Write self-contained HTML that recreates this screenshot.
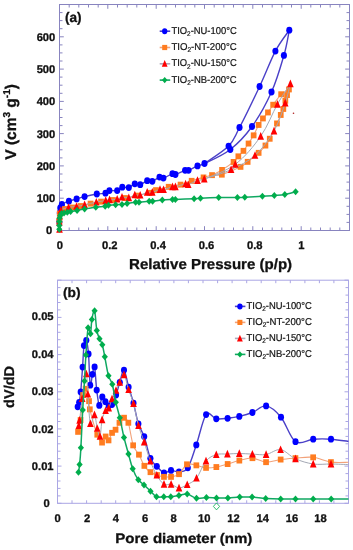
<!DOCTYPE html>
<html><head><meta charset="utf-8"><style>
html,body{margin:0;padding:0;background:#fff;}
svg{display:block;}
text{font-family:"Liberation Sans",Arial,sans-serif;fill:#111;text-rendering:geometricPrecision;}
text[font-weight="bold"]{stroke:#111;stroke-width:0.3px;}
</style></head><body>
<svg width="353" height="550" viewBox="0 0 353 550">
<rect width="353" height="550" fill="#fff"/>
<rect x="59.5" y="4.5" width="290.0" height="226.0" fill="none" stroke="#8884bf" stroke-width="1"/>
<path d="M59.5,230.5v-4.3M59.5,4.5v4.3M69.2,230.5v-3M69.2,4.5v3M78.8,230.5v-3M78.8,4.5v3M88.5,230.5v-3M88.5,4.5v3M98.2,230.5v-3M98.2,4.5v3M107.8,230.5v-4.3M107.8,4.5v4.3M117.5,230.5v-3M117.5,4.5v3M127.2,230.5v-3M127.2,4.5v3M136.8,230.5v-3M136.8,4.5v3M146.5,230.5v-3M146.5,4.5v3M156.2,230.5v-4.3M156.2,4.5v4.3M165.8,230.5v-3M165.8,4.5v3M175.5,230.5v-3M175.5,4.5v3M185.2,230.5v-3M185.2,4.5v3M194.8,230.5v-3M194.8,4.5v3M204.5,230.5v-4.3M204.5,4.5v4.3M214.2,230.5v-3M214.2,4.5v3M223.8,230.5v-3M223.8,4.5v3M233.5,230.5v-3M233.5,4.5v3M243.2,230.5v-3M243.2,4.5v3M252.8,230.5v-4.3M252.8,4.5v4.3M262.5,230.5v-3M262.5,4.5v3M272.2,230.5v-3M272.2,4.5v3M281.8,230.5v-3M281.8,4.5v3M291.5,230.5v-3M291.5,4.5v3M301.2,230.5v-4.3M301.2,4.5v4.3M310.8,230.5v-3M310.8,4.5v3M320.5,230.5v-3M320.5,4.5v3M330.2,230.5v-3M330.2,4.5v3M339.8,230.5v-3M339.8,4.5v3M349.5,230.5v-4.3M349.5,4.5v4.3M59.5,230.5h4.3M349.5,230.5h-4.3M59.5,222.4h3M349.5,222.4h-3M59.5,214.4h3M349.5,214.4h-3M59.5,206.3h3M349.5,206.3h-3M59.5,198.2h4.3M349.5,198.2h-4.3M59.5,190.1h3M349.5,190.1h-3M59.5,182.1h3M349.5,182.1h-3M59.5,174.0h3M349.5,174.0h-3M59.5,165.9h4.3M349.5,165.9h-4.3M59.5,157.9h3M349.5,157.9h-3M59.5,149.8h3M349.5,149.8h-3M59.5,141.7h3M349.5,141.7h-3M59.5,133.6h4.3M349.5,133.6h-4.3M59.5,125.6h3M349.5,125.6h-3M59.5,117.5h3M349.5,117.5h-3M59.5,109.4h3M349.5,109.4h-3M59.5,101.4h4.3M349.5,101.4h-4.3M59.5,93.3h3M349.5,93.3h-3M59.5,85.2h3M349.5,85.2h-3M59.5,77.1h3M349.5,77.1h-3M59.5,69.1h4.3M349.5,69.1h-4.3M59.5,61.0h3M349.5,61.0h-3M59.5,52.9h3M349.5,52.9h-3M59.5,44.9h3M349.5,44.9h-3M59.5,36.8h4.3M349.5,36.8h-4.3M59.5,28.7h3M349.5,28.7h-3M59.5,20.6h3M349.5,20.6h-3M59.5,12.6h3M349.5,12.6h-3M59.5,4.5h4.3M349.5,4.5h-4.3" stroke="#8884bf" stroke-width="1" fill="none"/>
<rect x="57.5" y="280.2" width="291.0" height="223.10000000000002" fill="none" stroke="#aaa6e4" stroke-width="1"/>
<path d="M57.5,503.3v-3M57.5,280.2v3M72.0,503.3v-3M72.0,280.2v3M86.6,503.3v-3M86.6,280.2v3M101.2,503.3v-3M101.2,280.2v3M115.7,503.3v-3M115.7,280.2v3M130.2,503.3v-3M130.2,280.2v3M144.8,503.3v-3M144.8,280.2v3M159.3,503.3v-3M159.3,280.2v3M173.9,503.3v-3M173.9,280.2v3M188.4,503.3v-3M188.4,280.2v3M203.0,503.3v-3M203.0,280.2v3M217.6,503.3v-3M217.6,280.2v3M232.1,503.3v-3M232.1,280.2v3M246.7,503.3v-3M246.7,280.2v3M261.2,503.3v-3M261.2,280.2v3M275.8,503.3v-3M275.8,280.2v3M290.3,503.3v-3M290.3,280.2v3M304.9,503.3v-3M304.9,280.2v3M319.4,503.3v-3M319.4,280.2v3M333.9,503.3v-3M333.9,280.2v3M348.5,503.3v-3M348.5,280.2v3M57.5,503.3h4M348.5,503.3h-4M57.5,495.9h3M348.5,495.9h-3M57.5,488.4h3M348.5,488.4h-3M57.5,481.0h3M348.5,481.0h-3M57.5,473.6h3M348.5,473.6h-3M57.5,466.1h4M348.5,466.1h-4M57.5,458.7h3M348.5,458.7h-3M57.5,451.2h3M348.5,451.2h-3M57.5,443.8h3M348.5,443.8h-3M57.5,436.4h3M348.5,436.4h-3M57.5,428.9h4M348.5,428.9h-4M57.5,421.5h3M348.5,421.5h-3M57.5,414.1h3M348.5,414.1h-3M57.5,406.6h3M348.5,406.6h-3M57.5,399.2h3M348.5,399.2h-3M57.5,391.8h4M348.5,391.8h-4M57.5,384.3h3M348.5,384.3h-3M57.5,376.9h3M348.5,376.9h-3M57.5,369.4h3M348.5,369.4h-3M57.5,362.0h3M348.5,362.0h-3M57.5,354.6h4M348.5,354.6h-4M57.5,347.1h3M348.5,347.1h-3M57.5,339.7h3M348.5,339.7h-3M57.5,332.3h3M348.5,332.3h-3M57.5,324.8h3M348.5,324.8h-3M57.5,317.4h4M348.5,317.4h-4M57.5,309.9h3M348.5,309.9h-3M57.5,302.5h3M348.5,302.5h-3M57.5,295.1h3M348.5,295.1h-3M57.5,287.6h3M348.5,287.6h-3M57.5,280.2h4M348.5,280.2h-4" stroke="#aaa6e4" stroke-width="1" fill="none"/>
<g>
<path d="M59.4,229.5 C59.4,228.2 59.2,224.8 59.3,222.0 C59.4,219.2 59.6,215.3 59.8,213.0 C60.0,210.7 59.9,209.4 60.3,208.0 C60.6,206.6 60.5,205.5 61.9,204.4 C63.3,203.3 66.5,202.1 68.9,201.2 C71.4,200.3 74.0,199.7 76.6,198.9 C79.2,198.1 81.2,197.4 84.6,196.6 C88.0,195.8 93.3,194.6 96.8,194.0 C100.3,193.4 103.4,193.8 105.5,193.2 C107.6,192.6 107.5,191.0 109.4,190.6 C111.4,190.2 115.1,191.2 117.2,190.6 C119.3,190.0 120.4,187.7 122.3,187.2 C124.2,186.7 126.7,188.2 128.8,187.6 C130.9,187.0 132.9,184.3 134.8,183.8 C136.7,183.3 138.1,185.2 140.2,184.7 C142.3,184.2 145.2,181.3 147.2,180.7 C149.2,180.1 150.2,181.9 152.3,181.3 C154.4,180.7 157.7,177.6 159.5,177.1 C161.3,176.6 161.2,178.7 163.4,178.1 C165.6,177.5 170.5,174.3 172.5,173.7 C174.5,173.1 173.3,175.1 175.4,174.5 C177.5,173.9 182.9,171.0 185.1,170.3 C187.3,169.6 186.4,171.0 188.5,170.3 C190.6,169.6 194.8,167.0 197.5,165.9 C200.2,164.8 199.0,166.2 204.5,163.5 C210.0,160.8 222.4,155.7 230.3,149.5 C238.2,143.3 245.1,136.1 252.0,126.5 C258.9,116.9 266.2,103.8 271.5,92.0 C276.8,80.2 280.9,65.7 283.9,55.4 C286.9,45.1 288.4,34.4 289.3,30.2" fill="none" stroke="#4a40c8" stroke-width="1.4" stroke-linejoin="round"/>
<path d="M289.3,30.2 C287.0,33.7 280.3,41.7 275.4,51.1 C270.4,60.5 265.6,73.8 259.6,86.5 C253.6,99.2 244.7,117.6 239.5,127.5 C234.3,137.4 234.4,140.1 228.6,146.1 C222.8,152.1 208.5,160.6 204.5,163.5" fill="none" stroke="#4a40c8" stroke-width="1.4" stroke-linejoin="round"/>
<ellipse cx="59.3" cy="222.0" rx="3.05" ry="3.40" fill="#0000ff"/><ellipse cx="59.8" cy="213.0" rx="3.05" ry="3.40" fill="#0000ff"/><ellipse cx="60.3" cy="208.0" rx="3.05" ry="3.40" fill="#0000ff"/><ellipse cx="61.9" cy="204.4" rx="3.05" ry="3.40" fill="#0000ff"/><ellipse cx="68.9" cy="201.2" rx="3.05" ry="3.40" fill="#0000ff"/><ellipse cx="76.6" cy="198.9" rx="3.05" ry="3.40" fill="#0000ff"/><ellipse cx="84.6" cy="196.6" rx="3.05" ry="3.40" fill="#0000ff"/><ellipse cx="96.8" cy="194.0" rx="3.05" ry="3.40" fill="#0000ff"/><ellipse cx="105.5" cy="193.2" rx="3.05" ry="3.40" fill="#0000ff"/><ellipse cx="109.4" cy="190.6" rx="3.05" ry="3.40" fill="#0000ff"/><ellipse cx="117.2" cy="190.6" rx="3.05" ry="3.40" fill="#0000ff"/><ellipse cx="122.3" cy="187.2" rx="3.05" ry="3.40" fill="#0000ff"/><ellipse cx="128.8" cy="187.6" rx="3.05" ry="3.40" fill="#0000ff"/><ellipse cx="134.8" cy="183.8" rx="3.05" ry="3.40" fill="#0000ff"/><ellipse cx="140.2" cy="184.7" rx="3.05" ry="3.40" fill="#0000ff"/><ellipse cx="147.2" cy="180.7" rx="3.05" ry="3.40" fill="#0000ff"/><ellipse cx="152.3" cy="181.3" rx="3.05" ry="3.40" fill="#0000ff"/><ellipse cx="159.5" cy="177.1" rx="3.05" ry="3.40" fill="#0000ff"/><ellipse cx="163.4" cy="178.1" rx="3.05" ry="3.40" fill="#0000ff"/><ellipse cx="172.5" cy="173.7" rx="3.05" ry="3.40" fill="#0000ff"/><ellipse cx="175.4" cy="174.5" rx="3.05" ry="3.40" fill="#0000ff"/><ellipse cx="185.1" cy="170.3" rx="3.05" ry="3.40" fill="#0000ff"/><ellipse cx="188.5" cy="170.3" rx="3.05" ry="3.40" fill="#0000ff"/><ellipse cx="197.5" cy="165.9" rx="3.05" ry="3.40" fill="#0000ff"/><ellipse cx="204.5" cy="163.5" rx="3.05" ry="3.40" fill="#0000ff"/><ellipse cx="230.3" cy="149.5" rx="3.05" ry="3.40" fill="#0000ff"/><ellipse cx="252.0" cy="126.5" rx="3.05" ry="3.40" fill="#0000ff"/><ellipse cx="271.5" cy="92.0" rx="3.05" ry="3.40" fill="#0000ff"/><ellipse cx="283.9" cy="55.4" rx="3.05" ry="3.40" fill="#0000ff"/><ellipse cx="289.3" cy="30.2" rx="3.05" ry="3.40" fill="#0000ff"/><ellipse cx="275.4" cy="51.1" rx="3.05" ry="3.40" fill="#0000ff"/><ellipse cx="259.6" cy="86.5" rx="3.05" ry="3.40" fill="#0000ff"/><ellipse cx="239.5" cy="127.5" rx="3.05" ry="3.40" fill="#0000ff"/><ellipse cx="228.6" cy="146.1" rx="3.05" ry="3.40" fill="#0000ff"/>
<path d="M59.5,229.5 C59.5,228.1 59.4,223.7 59.4,221.0 C59.4,218.3 58.9,215.5 59.8,213.5 C60.7,211.5 62.9,210.0 65.0,209.0 C67.1,208.0 69.9,208.0 72.5,207.5 C75.1,207.0 77.5,206.7 80.5,206.0 C83.5,205.3 87.1,204.3 90.5,203.6 C93.9,202.9 97.2,202.2 101.0,201.6 C104.8,201.0 109.0,200.6 113.0,200.0 C117.0,199.4 120.9,198.7 125.0,198.0 C129.1,197.3 133.4,196.5 137.5,195.6 C141.6,194.7 146.4,193.7 149.5,192.8 C152.6,191.9 152.7,191.2 155.9,190.2 C159.1,189.2 164.5,187.7 168.6,186.8 C172.7,185.9 176.7,185.6 180.5,184.6 C184.3,183.6 187.8,182.0 191.6,180.8 C195.4,179.6 200.1,178.3 203.5,177.4 C206.9,176.5 208.9,175.7 212.0,175.2 C215.1,174.7 217.1,176.0 221.8,174.6 C226.6,173.2 236.2,168.9 240.5,166.8 C244.8,164.7 244.7,164.1 247.7,161.8 C250.7,159.5 255.7,155.5 258.7,152.8 C261.7,150.1 263.6,147.8 265.5,145.5 C267.4,143.2 267.9,142.4 269.8,138.7 C271.7,135.0 275.2,127.5 277.0,123.5 C278.8,119.5 279.7,117.4 280.8,115.0 C281.9,112.6 282.6,111.4 283.4,109.0 C284.2,106.6 284.8,103.1 285.4,100.8 C286.0,98.5 286.5,97.0 287.1,95.1 C287.7,93.2 288.7,90.4 289.0,89.5" fill="none" stroke="#f2a27a" stroke-width="1.1" stroke-linejoin="round"/>
<path d="M289.0,89.5 C287.7,90.3 283.8,91.8 281.2,94.3 C278.6,96.8 275.4,101.8 273.2,104.8 C271.0,107.8 269.7,110.1 268.0,112.4 C266.3,114.7 264.6,116.3 263.0,118.4 C261.4,120.5 260.3,122.2 258.7,125.0 C257.1,127.8 255.3,132.2 253.6,135.3 C251.9,138.4 250.2,140.9 248.5,143.5 C246.8,146.1 245.1,148.7 243.4,150.8 C241.7,152.9 240.0,154.5 238.3,156.3 C236.7,158.2 236.2,159.6 233.5,161.9 C230.8,164.2 225.7,167.7 222.1,169.9 C218.5,172.1 213.7,174.3 212.0,175.2" fill="none" stroke="#f2a27a" stroke-width="1.1" stroke-linejoin="round"/>
<rect x="56.5" y="218.1" width="5.7" height="5.9" fill="#ff7c20"/><rect x="56.9" y="210.6" width="5.7" height="5.9" fill="#ff7c20"/><rect x="62.1" y="206.1" width="5.7" height="5.9" fill="#ff7c20"/><rect x="69.7" y="204.6" width="5.7" height="5.9" fill="#ff7c20"/><rect x="77.7" y="203.1" width="5.7" height="5.9" fill="#ff7c20"/><rect x="87.7" y="200.7" width="5.7" height="5.9" fill="#ff7c20"/><rect x="98.2" y="198.7" width="5.7" height="5.9" fill="#ff7c20"/><rect x="110.2" y="197.1" width="5.7" height="5.9" fill="#ff7c20"/><rect x="122.2" y="195.1" width="5.7" height="5.9" fill="#ff7c20"/><rect x="134.7" y="192.7" width="5.7" height="5.9" fill="#ff7c20"/><rect x="146.7" y="189.9" width="5.7" height="5.9" fill="#ff7c20"/><rect x="153.1" y="187.2" width="5.7" height="5.9" fill="#ff7c20"/><rect x="165.8" y="183.9" width="5.7" height="5.9" fill="#ff7c20"/><rect x="177.7" y="181.7" width="5.7" height="5.9" fill="#ff7c20"/><rect x="188.8" y="177.9" width="5.7" height="5.9" fill="#ff7c20"/><rect x="200.7" y="174.5" width="5.7" height="5.9" fill="#ff7c20"/><rect x="209.2" y="172.2" width="5.7" height="5.9" fill="#ff7c20"/><rect x="219.0" y="171.7" width="5.7" height="5.9" fill="#ff7c20"/><rect x="237.7" y="163.9" width="5.7" height="5.9" fill="#ff7c20"/><rect x="244.8" y="158.9" width="5.7" height="5.9" fill="#ff7c20"/><rect x="255.8" y="149.9" width="5.7" height="5.9" fill="#ff7c20"/><rect x="262.6" y="142.6" width="5.7" height="5.9" fill="#ff7c20"/><rect x="266.9" y="135.8" width="5.7" height="5.9" fill="#ff7c20"/><rect x="274.1" y="120.5" width="5.7" height="5.9" fill="#ff7c20"/><rect x="277.9" y="112.0" width="5.7" height="5.9" fill="#ff7c20"/><rect x="280.5" y="106.0" width="5.7" height="5.9" fill="#ff7c20"/><rect x="282.5" y="97.8" width="5.7" height="5.9" fill="#ff7c20"/><rect x="284.2" y="92.1" width="5.7" height="5.9" fill="#ff7c20"/><rect x="286.1" y="86.5" width="5.7" height="5.9" fill="#ff7c20"/><rect x="278.3" y="91.3" width="5.7" height="5.9" fill="#ff7c20"/><rect x="270.3" y="101.8" width="5.7" height="5.9" fill="#ff7c20"/><rect x="265.1" y="109.5" width="5.7" height="5.9" fill="#ff7c20"/><rect x="260.1" y="115.5" width="5.7" height="5.9" fill="#ff7c20"/><rect x="255.8" y="122.0" width="5.7" height="5.9" fill="#ff7c20"/><rect x="250.8" y="132.4" width="5.7" height="5.9" fill="#ff7c20"/><rect x="245.7" y="140.6" width="5.7" height="5.9" fill="#ff7c20"/><rect x="240.6" y="147.9" width="5.7" height="5.9" fill="#ff7c20"/><rect x="235.5" y="153.4" width="5.7" height="5.9" fill="#ff7c20"/><rect x="230.7" y="159.0" width="5.7" height="5.9" fill="#ff7c20"/><rect x="219.2" y="167.0" width="5.7" height="5.9" fill="#ff7c20"/>
<path d="M59.5,229.3 C59.5,228.1 59.4,224.2 59.4,222.0 C59.4,219.8 59.4,217.9 59.6,216.0 C59.9,214.1 59.4,211.7 60.9,210.3 C62.4,208.9 66.0,208.1 68.6,207.4 C71.2,206.8 73.8,206.8 76.5,206.4 C79.2,206.0 81.3,205.5 84.6,204.8 C87.9,204.1 92.8,202.8 96.3,202.1 C99.8,201.4 103.5,200.9 105.7,200.5 C107.9,200.1 107.7,200.0 109.6,199.8 C111.5,199.6 115.1,199.6 117.2,199.1 C119.3,198.6 120.1,197.3 122.0,197.1 C123.9,196.9 126.7,198.2 128.8,197.8 C130.9,197.4 132.9,195.3 134.8,194.9 C136.7,194.5 138.1,195.6 140.2,195.2 C142.3,194.8 145.2,192.8 147.2,192.3 C149.2,191.8 150.2,192.8 152.3,192.3 C154.4,191.8 158.1,189.9 160.0,189.5 C161.9,189.1 161.5,190.1 163.6,189.7 C165.7,189.2 170.5,187.3 172.5,186.8 C174.5,186.3 173.2,187.3 175.4,186.8 C177.6,186.3 183.5,184.3 185.6,183.9 C187.7,183.5 186.2,185.2 188.2,184.6 C190.2,184.0 194.8,181.4 197.5,180.5 C200.2,179.6 198.7,180.8 204.3,179.0 C209.9,177.2 222.7,173.5 231.1,169.6 C239.5,165.7 247.8,161.8 255.0,155.4 C262.1,149.0 269.0,139.7 274.0,131.0 C279.0,122.3 282.5,110.9 285.2,103.0 C287.9,95.1 289.5,87.0 290.4,83.8" fill="none" stroke="#a4a8b4" stroke-width="1.0" stroke-linejoin="round"/>
<path d="M290.4,83.8 C288.2,87.2 282.3,95.5 277.4,104.3 C272.4,113.0 267.7,126.3 260.7,136.3 C253.7,146.3 244.7,157.2 235.3,164.3 C225.9,171.4 209.5,176.6 204.3,179.0" fill="none" stroke="#a4a8b4" stroke-width="1.0" stroke-linejoin="round"/>
<polygon points="59.5,225.1 62.8,232.7 56.2,232.7" fill="#ff0000"/><polygon points="59.4,217.8 62.7,225.4 56.1,225.4" fill="#ff0000"/><polygon points="59.6,211.8 62.9,219.4 56.3,219.4" fill="#ff0000"/><polygon points="60.9,206.1 64.2,213.7 57.6,213.7" fill="#ff0000"/><polygon points="68.6,203.2 71.9,210.8 65.3,210.8" fill="#ff0000"/><polygon points="76.5,202.2 79.8,209.8 73.2,209.8" fill="#ff0000"/><polygon points="84.6,200.6 87.9,208.2 81.3,208.2" fill="#ff0000"/><polygon points="96.3,197.9 99.6,205.5 93.0,205.5" fill="#ff0000"/><polygon points="105.7,196.3 109.0,203.9 102.4,203.9" fill="#ff0000"/><polygon points="109.6,195.6 112.9,203.2 106.3,203.2" fill="#ff0000"/><polygon points="117.2,194.9 120.5,202.5 113.9,202.5" fill="#ff0000"/><polygon points="122.0,192.9 125.3,200.5 118.7,200.5" fill="#ff0000"/><polygon points="128.8,193.6 132.1,201.2 125.5,201.2" fill="#ff0000"/><polygon points="134.8,190.7 138.1,198.3 131.5,198.3" fill="#ff0000"/><polygon points="140.2,191.0 143.5,198.6 136.9,198.6" fill="#ff0000"/><polygon points="147.2,188.1 150.5,195.7 143.9,195.7" fill="#ff0000"/><polygon points="152.3,188.1 155.6,195.7 149.0,195.7" fill="#ff0000"/><polygon points="160.0,185.3 163.3,192.9 156.7,192.9" fill="#ff0000"/><polygon points="163.6,185.5 166.9,193.1 160.3,193.1" fill="#ff0000"/><polygon points="172.5,182.6 175.8,190.2 169.2,190.2" fill="#ff0000"/><polygon points="175.4,182.6 178.7,190.2 172.1,190.2" fill="#ff0000"/><polygon points="185.6,179.7 188.9,187.3 182.3,187.3" fill="#ff0000"/><polygon points="188.2,180.4 191.5,188.0 184.9,188.0" fill="#ff0000"/><polygon points="197.5,176.3 200.8,183.9 194.2,183.9" fill="#ff0000"/><polygon points="204.3,174.8 207.6,182.4 201.0,182.4" fill="#ff0000"/><polygon points="231.1,165.4 234.4,173.0 227.8,173.0" fill="#ff0000"/><polygon points="255.0,151.2 258.3,158.8 251.7,158.8" fill="#ff0000"/><polygon points="274.0,126.8 277.3,134.4 270.7,134.4" fill="#ff0000"/><polygon points="285.2,98.8 288.5,106.4 281.9,106.4" fill="#ff0000"/><polygon points="290.4,79.6 293.7,87.2 287.1,87.2" fill="#ff0000"/><polygon points="277.4,100.1 280.7,107.7 274.1,107.7" fill="#ff0000"/><polygon points="260.7,132.1 264.0,139.7 257.4,139.7" fill="#ff0000"/><polygon points="235.3,160.1 238.6,167.7 232.0,167.7" fill="#ff0000"/>
<circle cx="293.5" cy="113.2" r="0.8" fill="#b02020"/>
<path d="M59.3,229.3 C59.3,228.7 59.3,226.8 59.3,225.5 C59.3,224.2 59.3,222.8 59.4,221.5 C59.4,220.2 59.4,219.0 59.6,218.0 C59.8,217.0 60.0,216.2 60.3,215.5 C60.6,214.8 61.0,214.0 61.6,213.6 C62.2,213.2 63.0,213.1 64.0,212.9 C65.0,212.7 66.2,212.5 67.3,212.3 C68.4,212.1 69.0,211.8 70.6,211.5 C72.2,211.2 74.8,210.8 77.1,210.4 C79.4,210.0 81.5,209.4 84.6,208.9 C87.7,208.4 92.4,207.6 95.8,207.2 C99.2,206.8 103.1,206.5 105.2,206.2 C107.3,205.9 106.8,205.6 108.5,205.3 C110.2,205.1 113.3,204.8 115.6,204.7 C117.8,204.5 120.1,204.6 122.0,204.4 C123.9,204.2 124.8,203.8 127.1,203.4 C129.4,203.0 133.6,202.4 135.6,202.2 C137.6,202.0 136.7,202.3 139.0,202.2 C141.3,202.0 146.9,201.5 149.2,201.3 C151.5,201.2 150.4,201.5 152.6,201.3 C154.8,201.1 159.0,200.3 162.3,200.0 C165.6,199.7 170.3,199.6 172.5,199.5 C174.7,199.4 171.8,199.6 175.4,199.5 C179.0,199.4 189.9,198.9 194.1,198.7 C198.3,198.5 196.4,198.4 200.5,198.2 C204.6,198.0 212.5,197.7 218.7,197.6 C224.8,197.5 233.1,197.7 237.4,197.6 C241.8,197.5 240.6,197.4 244.8,197.2 C249.0,197.0 257.5,196.5 262.4,196.2 C267.3,195.9 270.6,195.7 274.3,195.4 C278.0,195.1 281.2,195.0 284.8,194.4 C288.4,193.8 293.8,192.2 295.6,191.8" fill="none" stroke="#10a862" stroke-width="1.5" stroke-linejoin="round"/>
<polygon points="59.3,225.8 62.4,229.3 59.3,232.8 56.2,229.3" fill="#00ad4c"/><polygon points="59.3,222.0 62.4,225.5 59.3,229.0 56.2,225.5" fill="#00ad4c"/><polygon points="59.4,218.0 62.5,221.5 59.4,225.0 56.2,221.5" fill="#00ad4c"/><polygon points="59.6,214.5 62.7,218.0 59.6,221.5 56.5,218.0" fill="#00ad4c"/><polygon points="60.3,212.0 63.4,215.5 60.3,219.0 57.2,215.5" fill="#00ad4c"/><polygon points="61.6,210.1 64.7,213.6 61.6,217.1 58.5,213.6" fill="#00ad4c"/><polygon points="64.0,209.4 67.1,212.9 64.0,216.4 60.9,212.9" fill="#00ad4c"/><polygon points="67.3,208.8 70.4,212.3 67.3,215.8 64.2,212.3" fill="#00ad4c"/><polygon points="70.6,208.0 73.7,211.5 70.6,215.0 67.5,211.5" fill="#00ad4c"/><polygon points="77.1,206.9 80.2,210.4 77.1,213.9 74.0,210.4" fill="#00ad4c"/><polygon points="84.6,205.4 87.7,208.9 84.6,212.4 81.5,208.9" fill="#00ad4c"/><polygon points="95.8,203.7 98.9,207.2 95.8,210.7 92.7,207.2" fill="#00ad4c"/><polygon points="105.2,202.7 108.3,206.2 105.2,209.7 102.1,206.2" fill="#00ad4c"/><polygon points="108.5,201.8 111.6,205.3 108.5,208.8 105.4,205.3" fill="#00ad4c"/><polygon points="115.6,201.2 118.7,204.7 115.6,208.2 112.5,204.7" fill="#00ad4c"/><polygon points="122.0,200.9 125.1,204.4 122.0,207.9 118.9,204.4" fill="#00ad4c"/><polygon points="127.1,199.9 130.2,203.4 127.1,206.9 124.0,203.4" fill="#00ad4c"/><polygon points="135.6,198.7 138.7,202.2 135.6,205.7 132.5,202.2" fill="#00ad4c"/><polygon points="139.0,198.7 142.1,202.2 139.0,205.7 135.9,202.2" fill="#00ad4c"/><polygon points="149.2,197.8 152.3,201.3 149.2,204.8 146.1,201.3" fill="#00ad4c"/><polygon points="152.6,197.8 155.7,201.3 152.6,204.8 149.5,201.3" fill="#00ad4c"/><polygon points="162.3,196.5 165.4,200.0 162.3,203.5 159.2,200.0" fill="#00ad4c"/><polygon points="172.5,196.0 175.6,199.5 172.5,203.0 169.4,199.5" fill="#00ad4c"/><polygon points="175.4,196.0 178.5,199.5 175.4,203.0 172.3,199.5" fill="#00ad4c"/><polygon points="194.1,195.2 197.2,198.7 194.1,202.2 191.0,198.7" fill="#00ad4c"/><polygon points="200.5,194.7 203.6,198.2 200.5,201.7 197.4,198.2" fill="#00ad4c"/><polygon points="218.7,194.1 221.8,197.6 218.7,201.1 215.6,197.6" fill="#00ad4c"/><polygon points="237.4,194.1 240.5,197.6 237.4,201.1 234.3,197.6" fill="#00ad4c"/><polygon points="244.8,193.7 247.9,197.2 244.8,200.7 241.7,197.2" fill="#00ad4c"/><polygon points="262.4,192.7 265.5,196.2 262.4,199.7 259.3,196.2" fill="#00ad4c"/><polygon points="274.3,191.9 277.4,195.4 274.3,198.9 271.2,195.4" fill="#00ad4c"/><polygon points="284.8,190.9 287.9,194.4 284.8,197.9 281.7,194.4" fill="#00ad4c"/><polygon points="295.6,188.3 298.7,191.8 295.6,195.3 292.5,191.8" fill="#00ad4c"/>
</g>
<g>
<path d="M77.7,406.8 C78.0,406.1 78.7,404.8 79.2,402.3 C79.7,399.8 80.1,397.9 80.7,392.0 C81.3,386.1 82.0,374.8 82.6,367.1 C83.1,359.4 83.4,350.1 84.0,345.6 C84.6,341.1 85.5,338.9 86.3,340.3 C87.0,341.7 87.8,346.4 88.5,353.9 C89.2,361.4 89.5,381.8 90.2,385.2 C90.9,388.6 91.7,377.4 92.4,374.3 C93.1,371.2 93.9,364.3 94.6,366.9 C95.3,369.5 95.9,383.7 96.7,390.1 C97.5,396.5 98.4,404.3 99.3,405.4 C100.2,406.5 101.3,397.5 102.3,396.9 C103.3,396.3 104.3,400.2 105.4,401.7 C106.5,403.2 107.6,405.3 108.7,405.8 C109.8,406.3 110.8,406.3 112.0,404.5 C113.2,402.7 114.7,398.7 116.0,395.0 C117.3,391.3 118.5,386.4 119.8,382.3 C121.1,378.2 122.5,369.3 124.0,370.1 C125.5,370.9 127.0,381.6 128.6,387.1 C130.2,392.6 131.9,397.0 133.5,403.1 C135.1,409.2 136.6,418.2 138.4,423.8 C140.2,429.4 142.2,430.9 144.2,436.6 C146.2,442.4 148.3,453.4 150.4,458.3 C152.5,463.2 154.5,463.9 156.8,466.3 C159.1,468.7 161.6,472.1 164.0,472.8 C166.4,473.5 168.5,470.6 171.0,470.4 C173.5,470.2 176.2,472.2 179.0,471.8 C181.8,471.4 184.9,472.3 187.8,467.8 C190.7,463.3 193.2,453.8 196.3,444.9 C199.4,436.0 202.8,419.0 206.1,414.6 C209.4,410.2 212.7,418.2 216.3,418.8 C219.9,419.4 223.8,418.7 227.6,418.3 C231.4,417.9 235.2,417.4 239.3,416.4 C243.4,415.4 247.9,414.2 252.4,412.5 C256.9,410.8 261.3,405.1 266.1,405.9 C270.9,406.7 276.1,411.2 281.0,417.2 C285.9,423.2 290.1,438.0 295.5,441.7 C300.9,445.4 307.3,439.6 313.2,439.2 C319.1,438.8 325.1,438.8 331.0,439.2 C336.9,439.6 345.6,441.0 348.5,441.4" fill="none" stroke="#4a40c8" stroke-width="1.4" stroke-linejoin="round"/>
<ellipse cx="77.7" cy="406.8" rx="3.05" ry="3.40" fill="#0000ff"/><ellipse cx="79.2" cy="402.3" rx="3.05" ry="3.40" fill="#0000ff"/><ellipse cx="80.7" cy="392.0" rx="3.05" ry="3.40" fill="#0000ff"/><ellipse cx="82.6" cy="367.1" rx="3.05" ry="3.40" fill="#0000ff"/><ellipse cx="84.0" cy="345.6" rx="3.05" ry="3.40" fill="#0000ff"/><ellipse cx="86.3" cy="340.3" rx="3.05" ry="3.40" fill="#0000ff"/><ellipse cx="88.5" cy="353.9" rx="3.05" ry="3.40" fill="#0000ff"/><ellipse cx="90.2" cy="385.2" rx="3.05" ry="3.40" fill="#0000ff"/><ellipse cx="92.4" cy="374.3" rx="3.05" ry="3.40" fill="#0000ff"/><ellipse cx="94.6" cy="366.9" rx="3.05" ry="3.40" fill="#0000ff"/><ellipse cx="96.7" cy="390.1" rx="3.05" ry="3.40" fill="#0000ff"/><ellipse cx="99.3" cy="405.4" rx="3.05" ry="3.40" fill="#0000ff"/><ellipse cx="102.3" cy="396.9" rx="3.05" ry="3.40" fill="#0000ff"/><ellipse cx="105.4" cy="401.7" rx="3.05" ry="3.40" fill="#0000ff"/><ellipse cx="108.7" cy="405.8" rx="3.05" ry="3.40" fill="#0000ff"/><ellipse cx="112.0" cy="404.5" rx="3.05" ry="3.40" fill="#0000ff"/><ellipse cx="116.0" cy="395.0" rx="3.05" ry="3.40" fill="#0000ff"/><ellipse cx="119.8" cy="382.3" rx="3.05" ry="3.40" fill="#0000ff"/><ellipse cx="124.0" cy="370.1" rx="3.05" ry="3.40" fill="#0000ff"/><ellipse cx="128.6" cy="387.1" rx="3.05" ry="3.40" fill="#0000ff"/><ellipse cx="133.5" cy="403.1" rx="3.05" ry="3.40" fill="#0000ff"/><ellipse cx="138.4" cy="423.8" rx="3.05" ry="3.40" fill="#0000ff"/><ellipse cx="144.2" cy="436.6" rx="3.05" ry="3.40" fill="#0000ff"/><ellipse cx="150.4" cy="458.3" rx="3.05" ry="3.40" fill="#0000ff"/><ellipse cx="156.8" cy="466.3" rx="3.05" ry="3.40" fill="#0000ff"/><ellipse cx="164.0" cy="472.8" rx="3.05" ry="3.40" fill="#0000ff"/><ellipse cx="171.0" cy="470.4" rx="3.05" ry="3.40" fill="#0000ff"/><ellipse cx="179.0" cy="471.8" rx="3.05" ry="3.40" fill="#0000ff"/><ellipse cx="187.8" cy="467.8" rx="3.05" ry="3.40" fill="#0000ff"/><ellipse cx="196.3" cy="444.9" rx="3.05" ry="3.40" fill="#0000ff"/><ellipse cx="206.1" cy="414.6" rx="3.05" ry="3.40" fill="#0000ff"/><ellipse cx="216.3" cy="418.8" rx="3.05" ry="3.40" fill="#0000ff"/><ellipse cx="227.6" cy="418.3" rx="3.05" ry="3.40" fill="#0000ff"/><ellipse cx="239.3" cy="416.4" rx="3.05" ry="3.40" fill="#0000ff"/><ellipse cx="252.4" cy="412.5" rx="3.05" ry="3.40" fill="#0000ff"/><ellipse cx="266.1" cy="405.9" rx="3.05" ry="3.40" fill="#0000ff"/><ellipse cx="281.0" cy="417.2" rx="3.05" ry="3.40" fill="#0000ff"/><ellipse cx="295.5" cy="441.7" rx="3.05" ry="3.40" fill="#0000ff"/><ellipse cx="313.2" cy="439.2" rx="3.05" ry="3.40" fill="#0000ff"/><ellipse cx="331.0" cy="439.2" rx="3.05" ry="3.40" fill="#0000ff"/>
<path d="M78.1,431.8 C78.5,429.8 79.7,426.1 80.5,420.0 C81.3,413.9 82.2,400.2 83.0,395.0 C83.8,389.8 84.6,387.9 85.6,388.9 C86.6,389.9 88.3,397.8 89.0,401.2 C89.7,404.6 88.4,403.7 89.8,409.3 C91.2,414.9 95.2,429.1 97.2,434.6 C99.2,440.1 100.7,442.2 102.1,442.5 C103.5,442.8 104.5,436.9 105.6,436.5 C106.7,436.1 107.4,441.0 108.5,440.4 C109.6,439.8 110.8,434.7 112.0,432.9 C113.2,431.1 114.3,431.4 115.5,429.7 C116.7,428.0 118.0,424.7 119.4,422.7 C120.8,420.7 122.5,417.7 124.0,417.7 C125.5,417.7 126.8,418.1 128.3,422.7 C129.8,427.3 131.4,440.0 133.2,445.3 C135.0,450.6 137.1,451.2 138.9,454.6 C140.8,458.0 142.4,463.0 144.3,465.9 C146.2,468.8 148.3,470.7 150.4,472.2 C152.5,473.7 154.8,474.2 157.0,475.0 C159.2,475.8 161.6,476.5 163.9,476.8 C166.2,477.1 168.5,477.2 171.0,476.8 C173.5,476.4 176.3,476.3 179.0,474.2 C181.7,472.1 184.0,465.9 186.9,464.4 C189.8,462.9 193.1,464.7 196.3,465.3 C199.5,465.9 202.8,467.5 206.1,467.8 C209.4,468.1 212.7,467.6 216.3,467.0 C219.9,466.4 223.8,465.1 227.6,464.0 C231.4,462.9 235.2,461.5 239.3,460.5 C243.4,459.5 247.9,457.8 252.4,458.1 C256.9,458.4 261.4,461.9 266.1,462.1 C270.8,462.3 275.7,460.2 280.6,459.5 C285.5,458.8 290.1,458.5 295.5,458.1 C300.9,457.7 307.3,456.6 313.2,457.3 C319.1,458.0 325.1,461.3 331.0,462.1 C336.9,462.9 345.6,462.3 348.5,462.3" fill="none" stroke="#f2a27a" stroke-width="1.1" stroke-linejoin="round"/>
<rect x="75.2" y="428.9" width="5.7" height="5.9" fill="#ff7c20"/><rect x="77.7" y="417.1" width="5.7" height="5.9" fill="#ff7c20"/><rect x="80.2" y="392.1" width="5.7" height="5.9" fill="#ff7c20"/><rect x="82.8" y="385.9" width="5.7" height="5.9" fill="#ff7c20"/><rect x="86.2" y="398.2" width="5.7" height="5.9" fill="#ff7c20"/><rect x="87.0" y="406.4" width="5.7" height="5.9" fill="#ff7c20"/><rect x="94.4" y="431.7" width="5.7" height="5.9" fill="#ff7c20"/><rect x="99.2" y="439.6" width="5.7" height="5.9" fill="#ff7c20"/><rect x="102.8" y="433.6" width="5.7" height="5.9" fill="#ff7c20"/><rect x="105.7" y="437.4" width="5.7" height="5.9" fill="#ff7c20"/><rect x="109.2" y="429.9" width="5.7" height="5.9" fill="#ff7c20"/><rect x="112.7" y="426.8" width="5.7" height="5.9" fill="#ff7c20"/><rect x="116.6" y="419.8" width="5.7" height="5.9" fill="#ff7c20"/><rect x="121.2" y="414.8" width="5.7" height="5.9" fill="#ff7c20"/><rect x="125.5" y="419.8" width="5.7" height="5.9" fill="#ff7c20"/><rect x="130.3" y="442.4" width="5.7" height="5.9" fill="#ff7c20"/><rect x="136.1" y="451.7" width="5.7" height="5.9" fill="#ff7c20"/><rect x="141.5" y="462.9" width="5.7" height="5.9" fill="#ff7c20"/><rect x="147.6" y="469.2" width="5.7" height="5.9" fill="#ff7c20"/><rect x="154.2" y="472.1" width="5.7" height="5.9" fill="#ff7c20"/><rect x="161.1" y="473.9" width="5.7" height="5.9" fill="#ff7c20"/><rect x="168.2" y="473.9" width="5.7" height="5.9" fill="#ff7c20"/><rect x="176.2" y="471.2" width="5.7" height="5.9" fill="#ff7c20"/><rect x="184.1" y="461.4" width="5.7" height="5.9" fill="#ff7c20"/><rect x="193.5" y="462.4" width="5.7" height="5.9" fill="#ff7c20"/><rect x="203.2" y="464.9" width="5.7" height="5.9" fill="#ff7c20"/><rect x="213.5" y="464.1" width="5.7" height="5.9" fill="#ff7c20"/><rect x="224.8" y="461.1" width="5.7" height="5.9" fill="#ff7c20"/><rect x="236.5" y="457.6" width="5.7" height="5.9" fill="#ff7c20"/><rect x="249.6" y="455.2" width="5.7" height="5.9" fill="#ff7c20"/><rect x="263.2" y="459.2" width="5.7" height="5.9" fill="#ff7c20"/><rect x="277.8" y="456.6" width="5.7" height="5.9" fill="#ff7c20"/><rect x="292.6" y="455.2" width="5.7" height="5.9" fill="#ff7c20"/><rect x="310.3" y="454.4" width="5.7" height="5.9" fill="#ff7c20"/><rect x="328.1" y="459.2" width="5.7" height="5.9" fill="#ff7c20"/>
<path d="M78.8,425.7 C78.9,424.8 79.0,424.8 79.6,420.3 C80.2,415.8 81.1,406.3 82.2,398.6 C83.3,390.9 85.4,374.6 86.3,373.9 C87.2,373.2 87.1,385.9 87.8,394.2 C88.5,402.5 89.3,420.3 90.4,423.7 C91.5,427.1 93.4,414.0 94.5,414.8 C95.6,415.6 96.3,424.8 97.2,428.4 C98.1,432.0 99.2,437.8 100.0,436.4 C100.8,435.0 101.2,424.1 102.1,419.8 C103.0,415.5 104.5,412.6 105.6,410.6 C106.7,408.6 107.6,409.9 108.7,408.0 C109.8,406.1 110.8,401.8 112.0,398.9 C113.2,396.0 114.7,393.2 116.0,390.4 C117.3,387.6 118.5,384.9 119.8,382.3 C121.1,379.7 122.5,373.6 124.0,374.8 C125.5,376.0 127.0,384.9 128.6,389.7 C130.2,394.5 131.8,397.6 133.5,403.6 C135.2,409.6 136.7,419.1 138.5,425.5 C140.3,431.9 142.2,436.1 144.2,442.0 C146.2,447.9 148.2,455.6 150.3,461.1 C152.4,466.6 154.5,471.3 156.8,475.2 C159.1,479.1 161.6,482.8 164.0,484.3 C166.4,485.8 168.6,483.7 171.1,484.3 C173.6,484.9 176.3,487.9 179.0,488.0 C181.7,488.1 184.3,486.2 187.2,484.6 C190.1,483.0 193.4,482.1 196.5,478.2 C199.6,474.3 202.7,464.9 206.0,461.0 C209.3,457.1 212.7,455.8 216.3,454.6 C219.9,453.4 223.6,454.2 227.4,454.0 C231.2,453.8 235.1,453.5 239.3,453.5 C243.5,453.5 247.9,453.9 252.4,454.1 C256.9,454.3 261.4,455.2 266.1,454.5 C270.8,453.8 275.7,448.9 280.6,449.6 C285.5,450.3 290.1,456.4 295.5,458.8 C300.9,461.2 307.3,463.1 313.2,464.0 C319.1,464.9 325.1,463.9 331.0,464.0 C336.9,464.1 345.6,464.5 348.5,464.6" fill="none" stroke="#a4a8b4" stroke-width="1.0" stroke-linejoin="round"/>
<polygon points="78.8,421.5 82.1,429.1 75.5,429.1" fill="#ff0000"/><polygon points="79.6,416.1 82.9,423.7 76.3,423.7" fill="#ff0000"/><polygon points="82.2,394.4 85.5,402.0 78.9,402.0" fill="#ff0000"/><polygon points="86.3,369.7 89.6,377.3 83.0,377.3" fill="#ff0000"/><polygon points="87.8,390.0 91.1,397.6 84.5,397.6" fill="#ff0000"/><polygon points="90.4,419.5 93.7,427.1 87.1,427.1" fill="#ff0000"/><polygon points="94.5,410.6 97.8,418.2 91.2,418.2" fill="#ff0000"/><polygon points="97.2,424.2 100.5,431.8 93.9,431.8" fill="#ff0000"/><polygon points="100.0,432.2 103.3,439.8 96.7,439.8" fill="#ff0000"/><polygon points="102.1,415.6 105.4,423.2 98.8,423.2" fill="#ff0000"/><polygon points="105.6,406.4 108.9,414.0 102.3,414.0" fill="#ff0000"/><polygon points="108.7,403.8 112.0,411.4 105.4,411.4" fill="#ff0000"/><polygon points="112.0,394.7 115.3,402.3 108.7,402.3" fill="#ff0000"/><polygon points="116.0,386.2 119.3,393.8 112.7,393.8" fill="#ff0000"/><polygon points="119.8,378.1 123.1,385.7 116.5,385.7" fill="#ff0000"/><polygon points="124.0,370.6 127.3,378.2 120.7,378.2" fill="#ff0000"/><polygon points="128.6,385.5 131.9,393.1 125.3,393.1" fill="#ff0000"/><polygon points="133.5,399.4 136.8,407.0 130.2,407.0" fill="#ff0000"/><polygon points="138.5,421.3 141.8,428.9 135.2,428.9" fill="#ff0000"/><polygon points="144.2,437.8 147.5,445.4 140.9,445.4" fill="#ff0000"/><polygon points="150.3,456.9 153.6,464.5 147.0,464.5" fill="#ff0000"/><polygon points="156.8,471.0 160.1,478.6 153.5,478.6" fill="#ff0000"/><polygon points="164.0,480.1 167.3,487.7 160.7,487.7" fill="#ff0000"/><polygon points="171.1,480.1 174.4,487.7 167.8,487.7" fill="#ff0000"/><polygon points="179.0,483.8 182.3,491.4 175.7,491.4" fill="#ff0000"/><polygon points="187.2,480.4 190.5,488.0 183.9,488.0" fill="#ff0000"/><polygon points="196.5,474.0 199.8,481.6 193.2,481.6" fill="#ff0000"/><polygon points="206.0,456.8 209.3,464.4 202.7,464.4" fill="#ff0000"/><polygon points="216.3,450.4 219.6,458.0 213.0,458.0" fill="#ff0000"/><polygon points="227.4,449.8 230.7,457.4 224.1,457.4" fill="#ff0000"/><polygon points="239.3,449.3 242.6,456.9 236.0,456.9" fill="#ff0000"/><polygon points="252.4,449.9 255.7,457.5 249.1,457.5" fill="#ff0000"/><polygon points="266.1,450.3 269.4,457.9 262.8,457.9" fill="#ff0000"/><polygon points="280.6,445.4 283.9,453.0 277.3,453.0" fill="#ff0000"/><polygon points="295.5,454.6 298.8,462.2 292.2,462.2" fill="#ff0000"/><polygon points="313.2,459.8 316.5,467.4 309.9,467.4" fill="#ff0000"/><polygon points="331.0,459.8 334.3,467.4 327.7,467.4" fill="#ff0000"/>
<path d="M78.5,472.3 C78.7,471.0 79.2,468.6 79.6,464.5 C80.0,460.4 80.4,456.9 80.9,447.8 C81.4,438.7 82.1,421.1 82.7,410.0 C83.3,398.9 84.0,390.1 84.5,381.0 C85.0,371.9 85.3,364.0 85.9,355.1 C86.5,346.2 87.3,331.4 88.1,327.8 C88.9,324.2 89.9,335.2 90.5,333.8 C91.1,332.4 91.2,323.2 91.9,319.4 C92.6,315.5 93.8,308.8 94.6,310.7 C95.4,312.6 96.0,325.8 96.8,330.5 C97.6,335.2 98.6,336.3 99.5,338.7 C100.4,341.1 101.4,341.7 102.3,344.7 C103.2,347.7 103.8,351.6 104.8,356.8 C105.8,362.0 107.2,371.2 108.5,375.8 C109.8,380.4 111.1,379.9 112.3,384.3 C113.5,388.7 114.5,396.6 115.8,402.2 C117.0,407.8 118.4,411.8 119.8,417.7 C121.2,423.6 122.5,431.4 124.0,437.5 C125.5,443.6 127.0,448.8 128.5,454.0 C129.9,459.2 131.1,464.4 132.7,468.7 C134.3,473.0 136.4,477.1 138.3,479.8 C140.2,482.5 142.0,483.0 144.0,484.9 C146.0,486.8 148.4,489.2 150.5,491.2 C152.6,493.2 154.3,495.9 156.5,496.8 C158.7,497.7 161.4,496.8 163.8,496.8 C166.2,496.8 168.3,496.9 170.8,496.7 C173.3,496.5 176.2,495.8 178.9,495.4 C181.6,495.0 184.3,493.6 187.2,494.1 C190.1,494.6 193.3,497.7 196.5,498.3 C199.7,498.9 203.1,497.7 206.4,497.6 C209.7,497.5 212.9,497.8 216.5,497.9 C220.1,497.9 224.0,498.0 227.9,497.9 C231.8,497.8 235.7,497.1 239.7,497.0 C243.7,496.9 247.8,496.8 252.1,497.0 C256.4,497.2 260.9,498.1 265.7,498.4 C270.5,498.7 275.7,498.9 280.7,499.0 C285.7,499.1 290.1,499.0 295.5,499.0 C300.9,499.0 307.2,499.0 313.2,499.0 C319.1,499.0 325.3,499.0 331.2,499.0 C337.1,499.0 345.6,499.0 348.5,499.0" fill="none" stroke="#10a862" stroke-width="1.5" stroke-linejoin="round"/>
<polygon points="78.5,468.8 81.6,472.3 78.5,475.8 75.4,472.3" fill="#00ad4c"/><polygon points="79.6,461.0 82.7,464.5 79.6,468.0 76.5,464.5" fill="#00ad4c"/><polygon points="80.9,444.3 84.0,447.8 80.9,451.3 77.8,447.8" fill="#00ad4c"/><polygon points="82.7,406.5 85.8,410.0 82.7,413.5 79.6,410.0" fill="#00ad4c"/><polygon points="84.5,377.5 87.6,381.0 84.5,384.5 81.4,381.0" fill="#00ad4c"/><polygon points="85.9,351.6 89.0,355.1 85.9,358.6 82.8,355.1" fill="#00ad4c"/><polygon points="88.1,324.3 91.2,327.8 88.1,331.3 85.0,327.8" fill="#00ad4c"/><polygon points="90.5,330.3 93.6,333.8 90.5,337.3 87.4,333.8" fill="#00ad4c"/><polygon points="91.9,315.9 95.0,319.4 91.9,322.9 88.8,319.4" fill="#00ad4c"/><polygon points="94.6,307.2 97.7,310.7 94.6,314.2 91.5,310.7" fill="#00ad4c"/><polygon points="96.8,327.0 99.9,330.5 96.8,334.0 93.7,330.5" fill="#00ad4c"/><polygon points="99.5,335.2 102.6,338.7 99.5,342.2 96.4,338.7" fill="#00ad4c"/><polygon points="102.3,341.2 105.4,344.7 102.3,348.2 99.2,344.7" fill="#00ad4c"/><polygon points="104.8,353.3 107.9,356.8 104.8,360.3 101.7,356.8" fill="#00ad4c"/><polygon points="108.5,372.3 111.6,375.8 108.5,379.3 105.4,375.8" fill="#00ad4c"/><polygon points="112.3,380.8 115.4,384.3 112.3,387.8 109.2,384.3" fill="#00ad4c"/><polygon points="115.8,398.7 118.9,402.2 115.8,405.7 112.7,402.2" fill="#00ad4c"/><polygon points="119.8,414.2 122.9,417.7 119.8,421.2 116.7,417.7" fill="#00ad4c"/><polygon points="124.0,434.0 127.1,437.5 124.0,441.0 120.9,437.5" fill="#00ad4c"/><polygon points="128.5,450.5 131.6,454.0 128.5,457.5 125.4,454.0" fill="#00ad4c"/><polygon points="132.7,465.2 135.8,468.7 132.7,472.2 129.6,468.7" fill="#00ad4c"/><polygon points="138.3,476.3 141.4,479.8 138.3,483.3 135.2,479.8" fill="#00ad4c"/><polygon points="144.0,481.4 147.1,484.9 144.0,488.4 140.9,484.9" fill="#00ad4c"/><polygon points="150.5,487.7 153.6,491.2 150.5,494.7 147.4,491.2" fill="#00ad4c"/><polygon points="156.5,493.3 159.6,496.8 156.5,500.3 153.4,496.8" fill="#00ad4c"/><polygon points="163.8,493.3 166.9,496.8 163.8,500.3 160.7,496.8" fill="#00ad4c"/><polygon points="170.8,493.2 173.9,496.7 170.8,500.2 167.7,496.7" fill="#00ad4c"/><polygon points="178.9,491.9 182.0,495.4 178.9,498.9 175.8,495.4" fill="#00ad4c"/><polygon points="187.2,490.6 190.3,494.1 187.2,497.6 184.1,494.1" fill="#00ad4c"/><polygon points="196.5,494.8 199.6,498.3 196.5,501.8 193.4,498.3" fill="#00ad4c"/><polygon points="206.4,494.1 209.5,497.6 206.4,501.1 203.3,497.6" fill="#00ad4c"/><polygon points="216.5,494.4 219.6,497.9 216.5,501.4 213.4,497.9" fill="#00ad4c"/><polygon points="227.9,494.4 231.0,497.9 227.9,501.4 224.8,497.9" fill="#00ad4c"/><polygon points="239.7,493.5 242.8,497.0 239.7,500.5 236.6,497.0" fill="#00ad4c"/><polygon points="252.1,493.5 255.2,497.0 252.1,500.5 249.0,497.0" fill="#00ad4c"/><polygon points="265.7,494.9 268.8,498.4 265.7,501.9 262.6,498.4" fill="#00ad4c"/><polygon points="280.7,495.5 283.8,499.0 280.7,502.5 277.6,499.0" fill="#00ad4c"/><polygon points="295.5,495.5 298.6,499.0 295.5,502.5 292.4,499.0" fill="#00ad4c"/><polygon points="313.2,495.5 316.3,499.0 313.2,502.5 310.1,499.0" fill="#00ad4c"/><polygon points="331.2,495.5 334.3,499.0 331.2,502.5 328.1,499.0" fill="#00ad4c"/>
<polygon points="216.5,502.9 219.6,506.4 216.5,509.9 213.4,506.4" fill="none" stroke="#00ad4c" stroke-width="0.8"/>
</g>
<text x="55.3" y="202.11428571428573" font-size="11.2" font-weight="bold" text-anchor="end" >100</text>
<text x="55.3" y="169.82857142857145" font-size="11.2" font-weight="bold" text-anchor="end" >200</text>
<text x="55.3" y="137.54285714285714" font-size="11.2" font-weight="bold" text-anchor="end" >300</text>
<text x="55.3" y="105.25714285714287" font-size="11.2" font-weight="bold" text-anchor="end" >400</text>
<text x="55.3" y="72.97142857142859" font-size="11.2" font-weight="bold" text-anchor="end" >500</text>
<text x="55.3" y="40.685714285714276" font-size="11.2" font-weight="bold" text-anchor="end" >600</text>
<text x="52.3" y="233.9" font-size="11.2" font-weight="bold" text-anchor="end" >0</text>
<text x="59.9" y="248.8" font-size="11.2" font-weight="bold" text-anchor="middle" >0</text>
<text x="109.8" y="248.8" font-size="11.2" font-weight="bold" text-anchor="middle" >0.2</text>
<text x="158.1" y="248.8" font-size="11.2" font-weight="bold" text-anchor="middle" >0.4</text>
<text x="206.5" y="248.8" font-size="11.2" font-weight="bold" text-anchor="middle" >0.6</text>
<text x="254.8" y="248.8" font-size="11.2" font-weight="bold" text-anchor="middle" >0.8</text>
<text x="301.4" y="248.8" font-size="11.2" font-weight="bold" text-anchor="middle" >1</text>
<text x="53.6" y="470.09999999999997" font-size="11.2" font-weight="bold" text-anchor="end" >0.01</text>
<text x="53.6" y="432.9" font-size="11.2" font-weight="bold" text-anchor="end" >0.02</text>
<text x="53.6" y="394.9" font-size="11.2" font-weight="bold" text-anchor="end" >0.03</text>
<text x="53.6" y="357.7" font-size="11.2" font-weight="bold" text-anchor="end" >0.04</text>
<text x="53.6" y="320.29999999999995" font-size="11.2" font-weight="bold" text-anchor="end" >0.05</text>
<text x="49.8" y="506.7" font-size="11.2" font-weight="bold" text-anchor="end" >0</text>
<text x="57.6" y="521.6" font-size="11.2" font-weight="bold" text-anchor="middle" >0</text>
<text x="87.2" y="521.6" font-size="11.2" font-weight="bold" text-anchor="middle" >2</text>
<text x="115.8" y="521.6" font-size="11.2" font-weight="bold" text-anchor="middle" >4</text>
<text x="145.0" y="521.6" font-size="11.2" font-weight="bold" text-anchor="middle" >6</text>
<text x="173.5" y="521.6" font-size="11.2" font-weight="bold" text-anchor="middle" >8</text>
<text x="204.3" y="521.6" font-size="11.2" font-weight="bold" text-anchor="middle" >10</text>
<text x="233.5" y="521.6" font-size="11.2" font-weight="bold" text-anchor="middle" >12</text>
<text x="262.7" y="521.6" font-size="11.2" font-weight="bold" text-anchor="middle" >14</text>
<text x="291.9" y="521.6" font-size="11.2" font-weight="bold" text-anchor="middle" >16</text>
<text x="320.6" y="521.6" font-size="11.2" font-weight="bold" text-anchor="middle" >18</text>
<text x="210.6" y="268.9" font-size="14.5" font-weight="bold" text-anchor="middle" textLength="163" lengthAdjust="spacingAndGlyphs">Relative Pressure (p/p)</text>
<text x="183.8" y="543.4" font-size="13.8" font-weight="bold" text-anchor="middle" textLength="137" lengthAdjust="spacingAndGlyphs">Pore diameter (nm)</text>
<text transform="translate(15.9,121.9) rotate(-90)" font-size="15.5" font-weight="bold" text-anchor="middle">V (cm<tspan font-size="10" dy="-5.8">3</tspan><tspan dy="5.8"> g</tspan><tspan font-size="10" dy="-5.8">-1</tspan><tspan dy="5.8">)</tspan></text>
<text transform="translate(13.8,386.9) rotate(-90)" font-size="14.2" font-weight="bold" text-anchor="middle" textLength="42" lengthAdjust="spacingAndGlyphs">dV/dD</text>
<text x="65.0" y="22.2" font-size="13.8" font-weight="bold" text-anchor="start" textLength="16.6" lengthAdjust="spacingAndGlyphs">(a)</text>
<text x="63.0" y="297.1" font-size="13.4" font-weight="bold" text-anchor="start" textLength="17.6" lengthAdjust="spacingAndGlyphs">(b)</text>
<line x1="159.7" y1="31.2" x2="170.2" y2="31.2" stroke="#4a40c8" stroke-width="1.6"/><ellipse cx="164.7" cy="31.2" rx="2.68" ry="2.99" fill="#0000ff"/><text x="171.39999999999998" y="33.7" font-size="10.0" font-weight="normal" fill="#1a1a1a" stroke="#1a1a1a" stroke-width="0.22" textLength="65.3" lengthAdjust="spacingAndGlyphs">TIO<tspan font-size="6.8" dy="2.4">2</tspan><tspan dy="-2.4">-NU-100°C</tspan></text><line x1="159.7" y1="47.5" x2="170.2" y2="47.5" stroke="#f2a27a" stroke-width="1.6"/><rect x="162.2" y="44.9" width="5.0" height="5.2" fill="#ff7c20"/><text x="171.39999999999998" y="50.0" font-size="10.0" font-weight="normal" fill="#1a1a1a" stroke="#1a1a1a" stroke-width="0.22" textLength="65.3" lengthAdjust="spacingAndGlyphs">TIO<tspan font-size="6.8" dy="2.4">2</tspan><tspan dy="-2.4">-NT-200°C</tspan></text><line x1="159.7" y1="63.8" x2="170.2" y2="63.8" stroke="#b0a8b8" stroke-width="1.6"/><polygon points="164.7,60.1 167.6,66.8 161.8,66.8" fill="#ff0000"/><text x="171.39999999999998" y="66.3" font-size="10.0" font-weight="normal" fill="#1a1a1a" stroke="#1a1a1a" stroke-width="0.22" textLength="65.3" lengthAdjust="spacingAndGlyphs">TIO<tspan font-size="6.8" dy="2.4">2</tspan><tspan dy="-2.4">-NU-150°C</tspan></text><line x1="159.7" y1="80.10000000000001" x2="170.2" y2="80.10000000000001" stroke="#10a862" stroke-width="1.6"/><polygon points="164.7,77.0 167.4,80.1 164.7,83.2 162.0,80.1" fill="#00ad4c"/><text x="171.39999999999998" y="82.60000000000001" font-size="10.0" font-weight="normal" fill="#1a1a1a" stroke="#1a1a1a" stroke-width="0.22" textLength="65.3" lengthAdjust="spacingAndGlyphs">TIO<tspan font-size="6.8" dy="2.4">2</tspan><tspan dy="-2.4">-NB-200°C</tspan></text>
<line x1="234.9" y1="306.4" x2="245.4" y2="306.4" stroke="#4a40c8" stroke-width="1.6"/><ellipse cx="239.9" cy="306.4" rx="2.68" ry="2.99" fill="#0000ff"/><text x="246.6" y="308.9" font-size="10.0" font-weight="normal" fill="#1a1a1a" stroke="#1a1a1a" stroke-width="0.22" textLength="65.3" lengthAdjust="spacingAndGlyphs">TIO<tspan font-size="6.8" dy="2.4">2</tspan><tspan dy="-2.4">-NU-100°C</tspan></text><line x1="234.9" y1="322.4" x2="245.4" y2="322.4" stroke="#f2a27a" stroke-width="1.6"/><rect x="237.4" y="319.8" width="5.0" height="5.2" fill="#ff7c20"/><text x="246.6" y="324.9" font-size="10.0" font-weight="normal" fill="#1a1a1a" stroke="#1a1a1a" stroke-width="0.22" textLength="65.3" lengthAdjust="spacingAndGlyphs">TIO<tspan font-size="6.8" dy="2.4">2</tspan><tspan dy="-2.4">-NT-200°C</tspan></text><line x1="234.9" y1="338.4" x2="245.4" y2="338.4" stroke="#b0a8b8" stroke-width="1.6"/><polygon points="239.9,334.7 242.8,341.4 237.0,341.4" fill="#ff0000"/><text x="246.6" y="340.9" font-size="10.0" font-weight="normal" fill="#1a1a1a" stroke="#1a1a1a" stroke-width="0.22" textLength="65.3" lengthAdjust="spacingAndGlyphs">TIO<tspan font-size="6.8" dy="2.4">2</tspan><tspan dy="-2.4">-NU-150°C</tspan></text><line x1="234.9" y1="354.4" x2="245.4" y2="354.4" stroke="#10a862" stroke-width="1.6"/><polygon points="239.9,351.3 242.6,354.4 239.9,357.5 237.2,354.4" fill="#00ad4c"/><text x="246.6" y="356.9" font-size="10.0" font-weight="normal" fill="#1a1a1a" stroke="#1a1a1a" stroke-width="0.22" textLength="65.3" lengthAdjust="spacingAndGlyphs">TIO<tspan font-size="6.8" dy="2.4">2</tspan><tspan dy="-2.4">-NB-200°C</tspan></text>
</svg>
</body></html>
